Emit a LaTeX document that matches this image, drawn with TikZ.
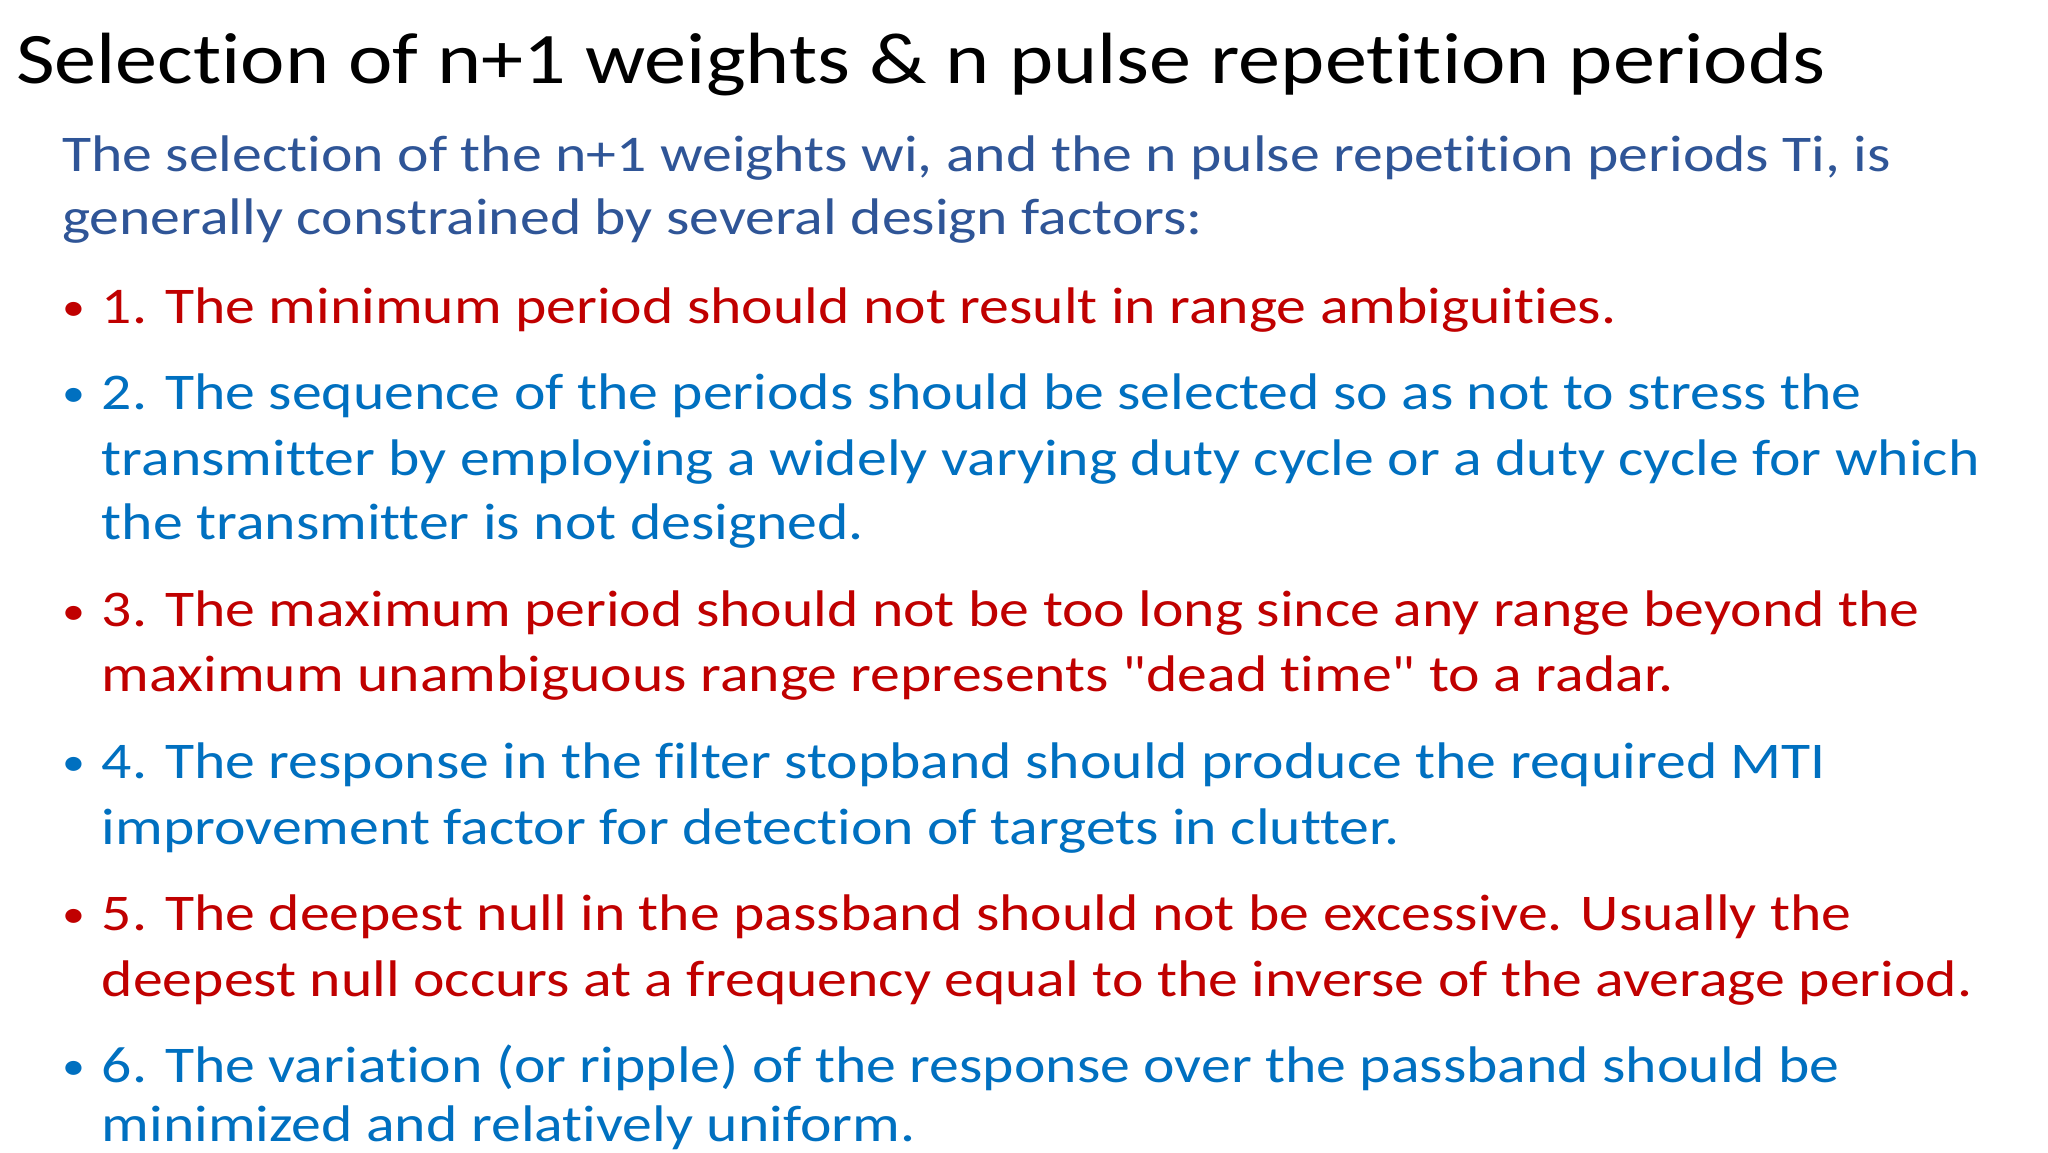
\documentclass[tikz,border=0pt]{standalone}
\usepackage{fontspec}
\setmainfont{Carlito}[FakeStretch=1.16,Ligatures={NoCommon,TeXOff}]
\definecolor{hdr}{HTML}{2F5597}
\definecolor{rd}{HTML}{C00000}
\definecolor{bl}{HTML}{0070C0}
\begin{document}
\begin{tikzpicture}[x=1pt,y=-1pt,
  ln/.style={anchor=base west,inner sep=0pt,font=\fontsize{39}{47}\selectfont},
  bul/.style={anchor=base west,inner sep=0pt,font=\fontsize{30}{36}\selectfont},
  ttl/.style={anchor=base west,inner sep=0pt,font=\fontsize{55}{60}\selectfont}]
\useasboundingbox[fill=white] (0,0) rectangle (1552,873);
\node[ttl] (t) at (12,63) {Selection of n+1 weights \& n pulse repetition periods};
\node[ln,hdr] (h1) at (47,130) {The selection of the n+1 weights wi, and the n pulse repetition periods Ti, is};
\node[ln,hdr] (h2) at (47,178) {generally constrained by several design factors:};
\foreach \y/\c/\n in {243/rd/1,308/bl/2,473/rd/3,588/bl/4,703/rd/5,818/bl/6}
  \node[bul,\c] (b\n) at (47,\y) {•};
\node[ln,rd] (a1) at (77,245) {1. The minimum period should not result in range ambiguities.};
\node[ln,bl] (a2) at (77,310) {2. The sequence of the periods should be selected so as not to stress the};
\node[ln,bl] (a2b) at (77,360) {transmitter by employing a widely varying duty cycle or a duty cycle for which};
\node[ln,bl] (a2c) at (77,409) {the transmitter is not designed.};
\node[ln,rd] (a3) at (77,475) {3. The maximum period should not be too long since any range beyond the};
\node[ln,rd] (a3b) at (77,524) {maximum unambiguous range represents "dead time" to a radar.};
\node[ln,bl] (a4) at (77,590) {4. The response in the filter stopband should produce the required MTI};
\node[ln,bl] (a4b) at (77,640) {improvement factor for detection of targets in clutter.};
\node[ln,rd] (a5) at (77,705) {5. The deepest null in the passband should not be excessive. Usually the};
\node[ln,rd] (a5b) at (77,755) {deepest null occurs at a frequency equal to the inverse of the average period.};
\node[ln,bl] (a6) at (77,820) {6. The variation (or ripple) of the response over the passband should be};
\node[ln,bl] (a6b) at (77,865) {minimized and relatively uniform.};
\end{tikzpicture}
\end{document}
